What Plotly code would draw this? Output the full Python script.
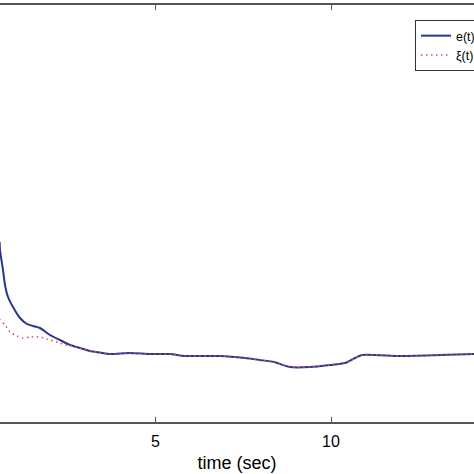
import plotly.graph_objects as go

# time axis (sec) and the two signals
t_e = [0.56, 0.57, 0.655, 0.712, 0.798, 0.94, 1.14, 1.339, 1.51, 1.709, 1.994, 2.279,
       2.564, 2.849, 3.134, 3.419, 3.704, 4.274, 4.843, 5.413, 5.84, 6.838, 7.55,
       7.977, 8.376, 8.832, 9.402, 9.972, 10.399, 10.684, 10.883, 11.966, 13.105, 14.074]
e_t = [1.80, 1.72, 1.52, 1.37, 1.25, 1.15, 1.04, 0.98, 0.96, 0.94, 0.87, 0.82,
       0.77, 0.74, 0.71, 0.695, 0.68, 0.69, 0.68, 0.68, 0.66, 0.66, 0.64,
       0.62, 0.60, 0.55, 0.55, 0.57, 0.59, 0.64, 0.67, 0.66, 0.67, 0.68]

t_xi = [0.56, 0.57, 0.712, 0.855, 1.054, 1.225, 1.425, 1.709, 1.994, 2.279, 2.422,
        2.564, 2.849, 3.134, 3.419, 3.704, 4.274, 4.843, 5.413, 5.84, 6.838, 7.55,
        7.977, 8.376, 8.832, 9.402, 9.972, 10.399, 10.684, 10.883, 11.966, 13.105, 14.074]
xi = [1.03, 1.02, 0.97, 0.90, 0.86, 0.84, 0.85, 0.85, 0.82, 0.79, 0.77,
      0.77, 0.74, 0.71, 0.695, 0.68, 0.69, 0.68, 0.68, 0.66, 0.66, 0.64,
      0.62, 0.60, 0.55, 0.55, 0.57, 0.59, 0.64, 0.67, 0.66, 0.67, 0.68]

x_ticks = [5, 10]

fig = go.Figure()
fig.add_trace(go.Scatter(x=t_e, y=e_t, mode="lines", name="e(t)",
                         line=dict(color="#2a358f", width=2, shape="spline", smoothing=0.6)))
fig.add_trace(go.Scatter(x=t_xi, y=xi, mode="lines", name="ξ(t)",
                         line=dict(color="#d9534f", width=1.5, dash="1.5px,3.5px",
                                   shape="spline", smoothing=0.6)))

axis_style = dict(showgrid=False, zeroline=False, linecolor="#555555", linewidth=1.5,
                  ticks="inside", ticklen=5, tickcolor="#555555")

fig.update_layout(
    width=474, height=474,
    margin=dict(l=0, r=0, t=5, b=52, autoexpand=False),
    plot_bgcolor="white", paper_bgcolor="white",
    font=dict(family="Liberation Sans, Arial, sans-serif", size=16, color="black"),
    xaxis=dict(range=[0.570, 14.074], tickvals=x_ticks, showline=True, mirror="ticks",
               ticklabelstandoff=4,
               title=dict(text="time (sec)", font=dict(size=18), standoff=7),
               **axis_style),
    yaxis=dict(range=[0, 4.17], visible=False, zeroline=False, showgrid=False),
    showlegend=True,
    legend=dict(x=0.8755, y=0.964, xanchor="left", yanchor="top",
                bordercolor="#333333", borderwidth=1, bgcolor="white",
                font=dict(size=12.5), tracegroupgap=0),
)

# drop the browser's default page margin so the figure sits at the window corner
fig.write_html("out.html", config={"displayModeBar": False},
               post_script="document.body.style.margin='0';")
